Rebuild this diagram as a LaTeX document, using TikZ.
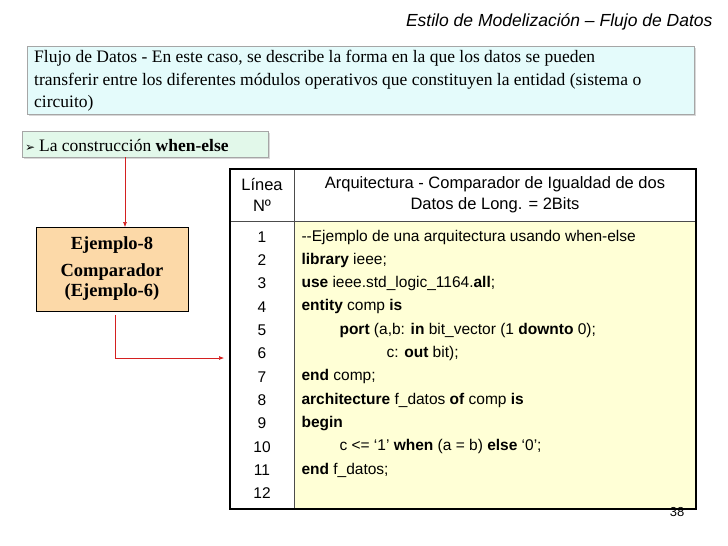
\documentclass[tikz,border=0pt]{standalone}
\usepackage{fontspec}
\setmainfont{Liberation Serif}
\setsansfont{Liberation Sans}
\usetikzlibrary{arrows.meta,shadows}
\definecolor{cyanbg}{HTML}{E4FBFB}
\definecolor{greenbg}{HTML}{E2F8EA}
\definecolor{orbg}{HTML}{FCD9A8}
\definecolor{yelbg}{HTML}{FFFFD6}
\definecolor{redline}{HTML}{D42020}
\tikzset{
 sbox/.style={draw=gray!70, line width=0.6pt, drop shadow={shadow xshift=2pt,shadow yshift=-2pt,fill=gray!60}},
 conn/.style={draw=redline, line width=0.6pt, -{Latex[length=5pt,width=4pt]}},
 num/.style={font=\sffamily\fontsize{15.5}{17}\selectfont, anchor=center},
 code/.style={font=\sffamily\fontsize{15.5}{17}\selectfont, anchor=west},
}
\begin{document}
\begin{tikzpicture}[x=1pt,y=-1pt]
\useasboundingbox (0,0) rectangle (728,546);
\node[anchor=east,font=\sffamily\itshape\fontsize{17.5}{19}\selectfont] (title) at (716,22) {Estilo de Modelización – Flujo de Datos};
\node[sbox,fill=cyanbg,minimum width=667pt,minimum height=68pt,anchor=north west] (intro) at (27,46) {};
\node[anchor=north west,align=left,font=\fontsize{17.5}{22.5}\selectfont,inner sep=0pt] (introtext) at (34,50) {Flujo de Datos - En este caso, se describe la forma en la que los datos se pueden\\transferir entre los diferentes módulos operativos que constituyen la entidad (sistema o\\circuito)};
\node[sbox,fill=greenbg,minimum width=246pt,minimum height=26pt,anchor=north west,inner sep=0pt] (cons) at (22,131) {};
\node[anchor=west,inner sep=0pt] (constext) at (25,145) {\fontspec{DejaVu Sans}\fontsize{12}{13}\selectfont ➢\ \fontspec{Liberation Serif}\fontsize{17.5}{18}\selectfont La construcción \textbf{when-else}};
\node[draw=black,line width=0.8pt,fill=orbg,minimum width=152pt,minimum height=84pt,anchor=north west] (ej) at (36,227) {};
\node[align=center,font=\bfseries\fontsize{18.5}{20}\selectfont] (ejt) at (112,269) {Ejemplo-8\\[7pt]Comparador\\(Ejemplo-6)};
\coordinate (cstart) at (125,157);
\coordinate (ejtop) at (125,227);
\draw[conn] (cstart) -- (ejtop);
% table
\fill[yelbg] (294,221) rectangle (696,509);
\draw[line width=0.8pt,gray!60!black] (294,169) -- (294,509) (230,221) -- (696,221);
\draw[line width=1.2pt] (230,169) rectangle (696,509);
\coordinate (tabin) at (224,358);
\coordinate (ejbot) at (115,315);
\draw[conn] (ejbot) |- (tabin);
\node[num,align=center,font=\sffamily\fontsize{16.5}{21}\selectfont] (h1) at (262,195) {Línea\\Nº};
\node[num,align=center,font=\sffamily\fontsize{16.5}{21}\selectfont] (h2) at (495,195) {Arquitectura - Comparador de Igualdad de dos\\Datos de Long. = 2Bits};
\foreach \i in {1,...,12} { \node[num] (n\i) at (262,{237+(\i-1)*23.3}) {\i}; }
\node[code] (c1) at (298,237) {-{}-Ejemplo de una arquitectura usando when-else};
\node[code] (c2) at (298,260.3) {\textbf{library} ieee;};
\node[code] (c3) at (298,283.6) {\textbf{use} ieee.std\_logic\_1164.\textbf{all};};
\node[code] (c4) at (298,306.9) {\textbf{entity} comp \textbf{is}};
\node[code] (c5) at (336,330.2) {\textbf{port} (a,b: \textbf{in} bit\_vector (1 \textbf{downto} 0);};
\node[code] (c6) at (383,353.5) {c: \textbf{out} bit);};
\node[code] (c7) at (298,376.8) {\textbf{end} comp;};
\node[code] (c8) at (298,400.1) {\textbf{architecture} f\_datos \textbf{of} comp \textbf{is}};
\node[code] (c9) at (298,423.4) {\textbf{begin}};
\node[code] (c10) at (336,446.7) {c <= ‘1’ \textbf{when} (a = b) \textbf{else} ‘0’;};
\node[code] (c11) at (298,470) {\textbf{end} f\_datos;};
\node[font=\sffamily\fontsize{13}{14}\selectfont] (pg) at (677,512) {38};
\end{tikzpicture}
\end{document}
